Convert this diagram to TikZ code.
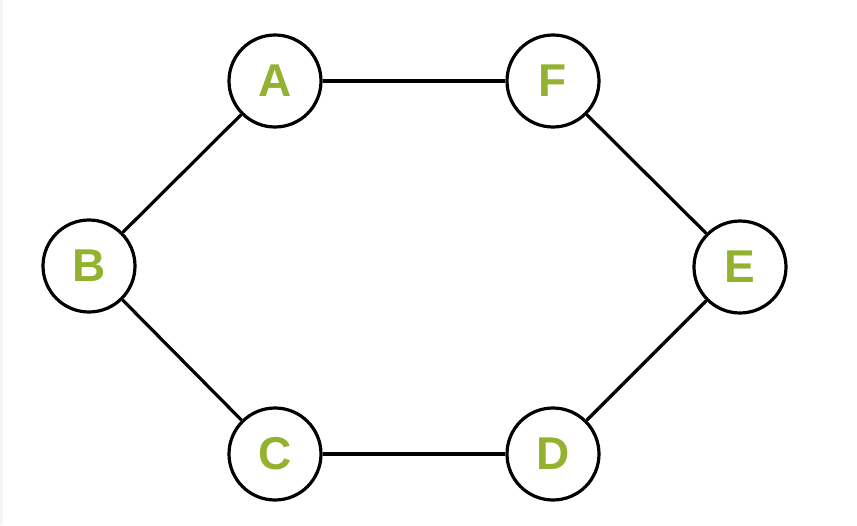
\documentclass[tikz,border=0pt]{standalone}
\usepackage{fontspec}
\setmainfont{Liberation Sans}
\definecolor{leaf}{RGB}{146,178,48}
\begin{document}
\begin{tikzpicture}[x=1pt,y=-1pt,every node/.style={font=\fontsize{46}{46}\selectfont\bfseries},vertex/.style={circle,draw=black,line width=3.2pt,fill=white,minimum size=92pt,inner sep=0pt,text=leaf},edge/.style={line width=3.2pt}]
\useasboundingbox (0,0) rectangle (857,525);
\fill[black!4] (0,0) rectangle (3,525);
\node[vertex] (A) at (275,81) {A};\node[vertex] (F) at (553,81) {F};
\node[vertex] (B) at (89,266) {B};\node[vertex] (E) at (740,267) {E};
\node[vertex] (C) at (275,454) {C};\node[vertex] (D) at (553,454) {D};
\draw[edge] (A)--(F);\draw[edge] (F)--(E);\draw[edge] (E)--(D);
\draw[edge] (D)--(C);\draw[edge] (C)--(B);\draw[edge] (B)--(A);
\end{tikzpicture}
\end{document}
